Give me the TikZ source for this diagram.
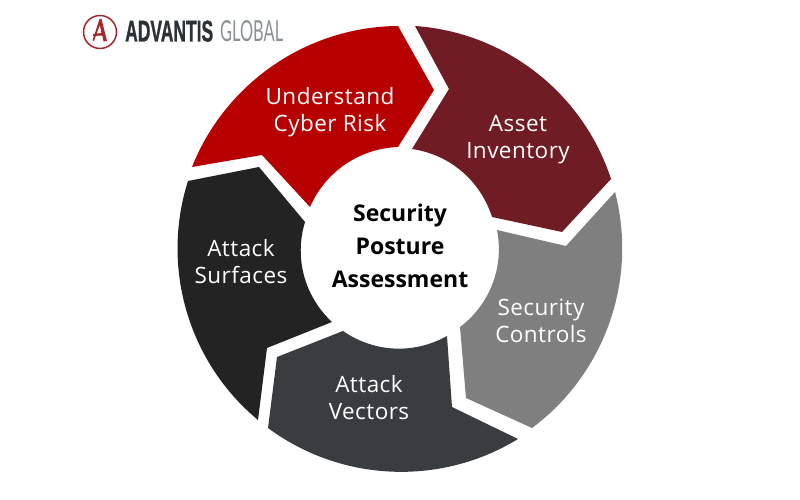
\documentclass[tikz,border=0pt]{standalone}
\usepackage{fontspec}
\usepackage{graphicx}
\setmainfont{Open Sans}
\newfontfamily\logofont[FakeBold=1.2]{Liberation Sans}
\newfontfamily\logolight{Lato}
\newfontfamily\segfont[LetterSpace=2]{Open Sans}
\definecolor{cRed}{HTML}{B70000}
\definecolor{cWine}{HTML}{701C24}
\definecolor{cGray}{HTML}{7F7F7F}
\definecolor{cSlate}{HTML}{3A3D40}
\definecolor{cBlack}{HTML}{232323}
\definecolor{cLogoRed}{HTML}{A5282D}
\definecolor{cLogoDark}{HTML}{2B3236}
\definecolor{cLogoGray}{HTML}{8A9195}
\tikzset{
  outerarc/.style={bend left=34,looseness=.93},
  innerarc/.style={bend right=32,looseness=.93},
  seglabel/.style={text=white,align=center,font=\fontsize{22.5}{27}\selectfont\segfont},
  hublabel/.style={text=black,align=center,font=\fontsize{23}{33}\selectfont\bfseries},
}
\begin{document}
\begin{tikzpicture}[x=1pt,y=1pt]
\useasboundingbox (0,0) rectangle (800,500);
% Understand Cyber Risk
\fill[cRed] (192,333) to[outerarc] (398,474) -- (434,410) -- (398,353)
  to[innerarc] (310,293) -- (262,345) -- cycle;
% Asset Inventory
\fill[cWine] (415,474) to[outerarc] (611,321) -- (562,268) -- (492,283)
  to[innerarc] (412,351) -- (449,411) -- cycle;
% Security Controls
\fill[cGray] (615,308) to[outerarc] (532,72) -- (466,102) -- (460,173)
  to[innerarc] (497,270) -- (566,254) -- cycle;
% Attack Vectors
\fill[cSlate] (518,61) to[outerarc] (268,72) -- (277,143) -- (343,169)
  to[innerarc] (447,164) -- (452,93) -- cycle;
% Attack Surfaces
\fill[cBlack] (258,80) to[outerarc] (188,319) -- (259,333) -- (305,278)
  to[innerarc] (332,178) -- (267,152) -- cycle;
% labels
\node[seglabel] (risk) at (330,388) {Understand\\Cyber Risk};
\node[seglabel] (asset) at (518,360.5) {Asset\\Inventory};
\node[seglabel] (controls) at (541,179) {Security\\Controls};
\node[seglabel] (vectors) at (369,102) {Attack\\Vectors};
\node[seglabel] (surfaces) at (241,238) {Attack\\Surfaces};
\node[hublabel] (hub) at (400,254) {Security\\Posture\\Assessment};
% logo
\draw[cLogoRed,line width=1.5pt] (100,468) circle (16.5);
\fill[cLogoRed] (99.5,481) -- (101.5,481) -- (107,459) -- (103.5,458.5) -- (102.3,464.5) -- (93,464) -- (93,466) -- (101.5,467) -- (99.8,475) -- (94,459) -- (92.5,459.5) -- cycle;
\node[anchor=south west,inner sep=0pt,text=cLogoDark] (brand) at (125,458)
  {\resizebox{88pt}{21pt}{\logofont\bfseries ADVANTIS}};
\node[anchor=south west,inner sep=0pt,text=cLogoGray] (brand2) at (220,458)
  {\resizebox{63pt}{21pt}{\logolight GLOBAL}};
\end{tikzpicture}
\end{document}
